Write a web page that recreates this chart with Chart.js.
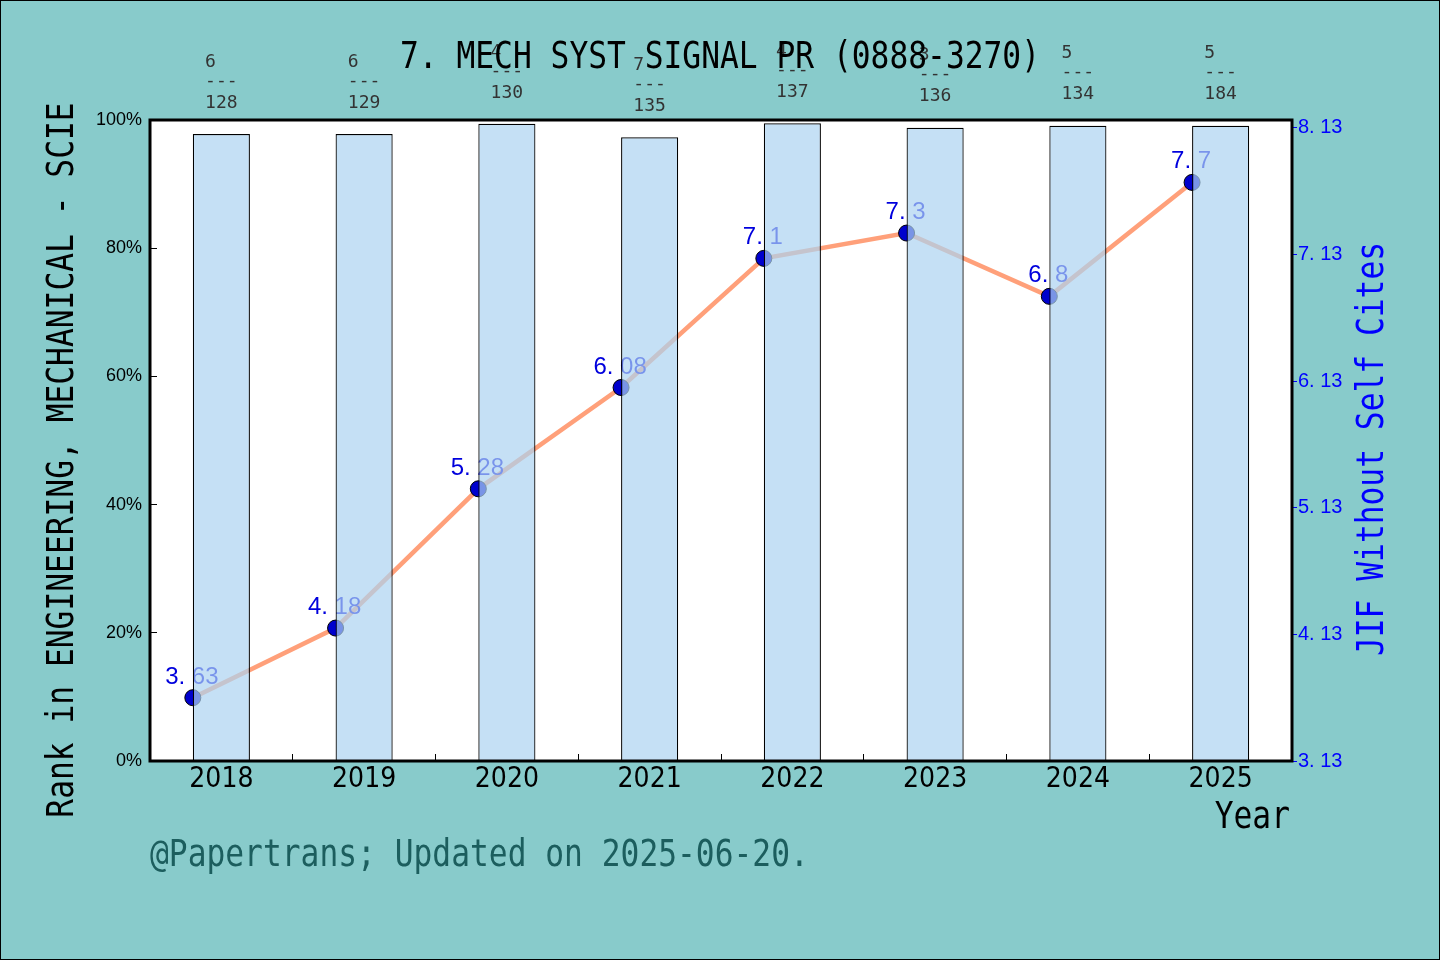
<!DOCTYPE html>
<html><head><meta charset="utf-8">
<script src="https://cdn.jsdelivr.net/npm/chart.js@4.4.0/dist/chart.umd.min.js"></script>
<style>html,body{margin:0;padding:0;background:#88CBCB;}#wrap{width:1440px;height:960px;}</style>
</head><body><div id="wrap"><canvas id="c" width="1440" height="960"></canvas></div>
<script>
// ---- data ----
const years = ['2018','2019','2020','2021','2022','2023','2024','2025'];
const rankPercent = [97.8, 97.8, 99.4, 97.3, 99.5, 98.8, 99.1, 99.1];
const ranks = [6, 6, 4, 7, 4, 3, 5, 5];
const totals = [128, 129, 130, 135, 137, 136, 134, 184];
const jifNoSelf = [3.63, 4.18, 5.28, 6.08, 7.1, 7.3, 6.8, 7.7];
const leftTickValues = [0, 20, 40, 60, 80, 100];
const rightTickValues = [3.13, 4.13, 5.13, 6.13, 7.13, 8.13];
const titleText = '7. MECH SYST SIGNAL PR (0888-3270)';
const leftAxisTitle = 'Rank in ENGINEERING, MECHANICAL - SCIE';
const rightAxisTitle = 'JIF Without Self Cites';
const xAxisTitle = 'Year';
const footerText = '@Papertrans; Updated on 2025-06-20.';

// ---- styles ----
const BG = '#88CBCB';
const BAR_FILL = 'rgba(172,211,241,0.7)';
const LINE_COLOR = '#FFA07A';
const POINT_COLOR = '#0000CD';
const LABEL_BLUE = '#0000DD';
const BAR_FRACTION = 0.4;      // bar width as fraction of category
const MONO = '"DejaVu Sans Mono", monospace';

function fmtDot(v){ return String(v).replace('.', '. '); }

function scaledText(ctx, text, x, y, size, sx, rot, color, align){
  ctx.save();
  ctx.translate(x, y);
  if (rot) ctx.rotate(rot);
  ctx.scale(sx, 1);
  ctx.font = size + 'px ' + MONO;
  ctx.fillStyle = color;
  ctx.textAlign = align || 'center';
  ctx.textBaseline = 'middle';
  ctx.fillText(text, 0, 0);
  ctx.restore();
}

const decoPlugin = {
  id: 'deco',
  beforeDraw(chart){
    const ctx = chart.ctx;
    ctx.save();
    ctx.fillStyle = BG;
    ctx.fillRect(0, 0, chart.width, chart.height);
    const a = chart.chartArea;
    ctx.fillStyle = '#FFFFFF';
    ctx.fillRect(a.left, a.top, a.right - a.left, a.bottom - a.top);
    ctx.strokeStyle = '#000';
    ctx.lineWidth = 1;
    ctx.strokeRect(0.5, 0.5, chart.width - 1, chart.height - 1);
    ctx.restore();
  },
  afterDatasetDraw(chart, args){
    // labels for the line dataset, drawn before the translucent bars cover them
    if (args.index !== 1) return;
    const ctx = chart.ctx;
    ctx.save();
    ctx.font = '24px "Liberation Sans", Arial, sans-serif';
    ctx.fillStyle = LABEL_BLUE;
    ctx.textAlign = 'center';
    ctx.textBaseline = 'alphabetic';
    args.meta.data.forEach((pt, i) => {
      ctx.fillText(fmtDot(jifNoSelf[i]), pt.x - 1, pt.y - 14);
    });
    ctx.restore();
  },
  afterDatasetsDraw(chart){
    const ctx = chart.ctx;
    const a = chart.chartArea;
    ctx.save();
    ctx.strokeStyle = '#000';
    ctx.lineWidth = 3;
    ctx.strokeRect(a.left, a.top, a.right - a.left, a.bottom - a.top);
    // rank fractions above bars
    ctx.font = '18px ' + MONO;
    ctx.fillStyle = '#333333';
    ctx.textAlign = 'left';
    ctx.textBaseline = 'middle';
    const meta = chart.getDatasetMeta(0);
    meta.data.forEach((bar, i) => {
      const lines = [String(ranks[i]), '---', String(totals[i])];
      const w = Math.max(...lines.map(l => ctx.measureText(l).width));
      const x0 = bar.x - w / 2;
      ctx.fillText(lines[0], x0, bar.y - 72);
      ctx.fillText(lines[1], x0, bar.y - 53);
      ctx.fillText(lines[2], x0, bar.y - 31);
    });
    ctx.restore();
  },
  afterDraw(chart){
    const ctx = chart.ctx;
    const a = chart.chartArea;
    scaledText(ctx, titleText, 720, 58, 37, 0.845, 0, '#000', 'center');
    scaledText(ctx, leftAxisTitle, 63, 460, 37, 0.845, -Math.PI / 2, '#000', 'center');
    scaledText(ctx, rightAxisTitle, 1373, 449, 37, 0.845, -Math.PI / 2, '#0000FF', 'center');
    scaledText(ctx, xAxisTitle, a.right - 2, 818, 37, 0.845, 0, '#000', 'right');
    scaledText(ctx, footerText, a.left, 856, 37, 0.845, 0, '#1C5E5E', 'left');
  }
};

const ctx = document.getElementById('c').getContext('2d');
new Chart(ctx, {
  type: 'bar',
  data: {
    labels: years,
    datasets: [
      {
        type: 'bar',
        label: 'Rank',
        data: rankPercent,
        xAxisID: 'x',
        yAxisID: 'y',
        grouped: false,
        backgroundColor: BAR_FILL,
        borderColor: '#000000',
        borderWidth: 1.2,
        borderSkipped: 'bottom',
        categoryPercentage: BAR_FRACTION,
        barPercentage: 1.0,
        order: 1
      },
      {
        type: 'line',
        label: 'JIF Without Self Cites',
        data: jifNoSelf.map((v, i) => ({ x: i - BAR_FRACTION / 2, y: v })),
        xAxisID: 'xl',
        yAxisID: 'y2',
        borderColor: LINE_COLOR,
        borderWidth: 4.5,
        pointRadius: 8,
        pointBackgroundColor: POINT_COLOR,
        pointBorderColor: '#000000',
        pointBorderWidth: 1,
        tension: 0,
        order: 2
      }
    ]
  },
  options: {
    responsive: false,
    animation: false,
    layout: { padding: { left: 0, top: 120, right: 0, bottom: 0 } },
    plugins: { legend: { display: false }, tooltip: { enabled: false }, title: { display: false } },
    scales: {
      x: {
        type: 'category',
        position: 'bottom',
        offset: true,
        grid: { display: true, drawOnChartArea: false, offset: true, tickLength: -7, color: '#000', lineWidth: 1 },
        border: { display: false },
        ticks: { color: '#000', padding: 9, font: { family: '"Liberation Sans Narrow", "DejaVu Sans Condensed", sans-serif', size: 28 } },
        afterFit(s){ s.height = 199; }
      },
      xl: { type: 'linear', display: false, offset: false, min: -0.5, max: years.length - 0.5,
            grid: { offset: false } },
      y: {
        position: 'left',
        min: 0, max: 100,
        afterBuildTicks(s){ s.ticks = leftTickValues.map(v => ({ value: v })); },
        ticks: { color: '#000', padding: 15, callback: v => v + '%', font: { family: '"Liberation Sans", Arial, sans-serif', size: 18 } },
        grid: { drawOnChartArea: false, tickLength: -7, color: '#000' },
        border: { display: false },
        afterFit(s){ s.width = 150; }
      },
      y2: {
        position: 'right',
        min: 3.13, max: 8.193,
        afterBuildTicks(s){ s.ticks = rightTickValues.map(v => ({ value: v })); },
        ticks: { color: '#0000FF', padding: 1, callback: v => fmtDot(v), font: { family: '"Liberation Sans", Arial, sans-serif', size: 20 } },
        grid: { drawOnChartArea: false, tickLength: 5, color: '#0000FF' },
        border: { display: false },
        afterFit(s){ s.width = 148; }
      }
    }
  },
  plugins: [decoPlugin]
});
</script>
</body></html>
